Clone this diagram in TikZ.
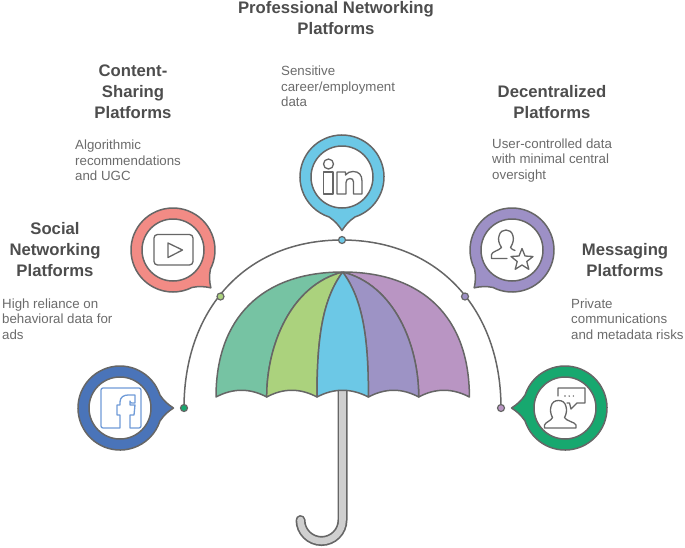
\documentclass[tikz,border=0pt]{standalone}
\usepackage{fontspec}
\setmainfont{Liberation Sans}
\definecolor{lineg}{HTML}{666666}
\definecolor{titleg}{HTML}{4D4D4D}
\definecolor{bodyg}{HTML}{6B6B6B}
\definecolor{cfb}{HTML}{4A74B9}
\definecolor{cfbicon}{HTML}{6F9BD8}
\definecolor{cyt}{HTML}{F28B85}
\definecolor{cli}{HTML}{6CC8E6}
\definecolor{cde}{HTML}{9D90C6}
\definecolor{cms}{HTML}{17A86F}
\definecolor{gteal}{HTML}{76C3A3}
\definecolor{glime}{HTML}{ABD27D}
\definecolor{gblue}{HTML}{6CC8E6}
\definecolor{gviol}{HTML}{9D93C5}
\definecolor{gplum}{HTML}{B995C3}
\definecolor{shaft}{HTML}{CFCFCF}
\tikzset{
  titletext/.style={inner sep=0pt,align=center,text=titleg,font=\fontsize{16.7}{21}\selectfont\bfseries},
  bodytext/.style={inner sep=0pt,align=left,text=bodyg,font=\fontsize{13.3}{15.6}\selectfont},
  outline/.style={draw=lineg,line width=1.5pt,line join=round},
  iconline/.style={draw=lineg,line width=1.3pt,line join=round,line cap=round},
  hole/.style={circle,draw=lineg,line width=1.5pt,fill=white,minimum size=62pt,inner sep=0pt},
  joint/.style={circle,draw=lineg,line width=1.2pt,minimum size=7pt,inner sep=0pt},
}
% Round badge with a pointed tail; #1 colour, #2 centre, #3 tail direction, #4 hole name
\newcommand{\badge}[4]{%
  \begin{scope}[shift={(#2)},rotate=#3]
    \fill[#1,outline] (18:42) arc[start angle=18,end angle=342,radius=42]
      .. controls (44,-7) and (48,-3.5) .. (53.5,0)
      .. controls (48,3.5) and (44,7) .. cycle;
  \end{scope}
  \node[hole] (#4) at (#2) {};
}
\begin{document}
\begin{tikzpicture}[x=1pt,y=1pt]
\useasboundingbox (0,-547) rectangle (685,0);

% Umbrella shaft and crook
\coordinate (shafttop) at (342.5,-388);
\coordinate (shaftend) at (342.5,-520);
\coordinate (crookend) at (300.5,-520);
\def\crook{(shafttop) -- (shaftend) .. controls (342.5,-531.6) and (333.1,-541) .. (321.5,-541)
   .. controls (309.9,-541) and (300.5,-531.6) .. (crookend)}
\draw[lineg,line width=10pt,line cap=round] \crook;
\draw[shaft,line width=6.6pt,line cap=round] \crook;

% Canopy gores
\coordinate (T) at (342.7,-272);
\coordinate (a0) at (216,-397);
\coordinate (a1) at (266.7,-397);
\coordinate (a2) at (317,-397);
\coordinate (a3) at (368.4,-397);
\coordinate (a4) at (418.7,-397);
\coordinate (a5) at (469.4,-397);
\fill[gteal,outline] (T) .. controls (262,-272) and (216,-318) .. (a0)
  .. controls (233,-388) and (250,-388) .. (a1)
  .. controls (266.7,-345) and (291,-285) .. (T);
\fill[gplum,outline] (T) .. controls (423.4,-272) and (469.4,-318) .. (a5)
  .. controls (452.4,-388) and (435.4,-388) .. (a4)
  .. controls (418.7,-345) and (394.4,-285) .. (T);
\fill[glime,outline] (T) .. controls (291,-285) and (266.7,-345) .. (a1)
  .. controls (283.5,-388) and (300,-388) .. (a2)
  .. controls (317,-340) and (322,-300) .. (T);
\fill[gviol,outline] (T) .. controls (394.4,-285) and (418.7,-345) .. (a4)
  .. controls (402,-388) and (385.4,-388) .. (a3)
  .. controls (368.4,-340) and (363.4,-300) .. (T);
\fill[gblue,outline] (T) .. controls (322,-300) and (317,-340) .. (a2)
  .. controls (334,-388) and (351,-388) .. (a3)
  .. controls (368.4,-340) and (363.4,-300) .. (T);

% Arch with its joints on top
\coordinate (pleft) at (184,-408);
\coordinate (pul) at (220.5,-296.5);
\coordinate (ptop) at (342,-240);
\coordinate (pur) at (465,-296.5);
\coordinate (pright) at (501,-408);
\draw[lineg,line width=1.5pt] (pleft) .. controls (184,-310) and (245,-240) .. (ptop);
\draw[lineg,line width=1.5pt] (pright) .. controls (501,-310) and (439,-240) .. (ptop);
\node[joint,fill=cms] (jleft) at (pleft) {};
\node[joint,fill=glime] (jul) at (pul) {};
\node[joint,fill=cli] (jtop) at (ptop) {};
\node[joint,fill=cde] (jur) at (pur) {};
\node[joint,fill=gplum] (jright) at (pright) {};

% Badges
\badge{cfb}{120,-408}{0}{hfb}
\badge{cyt}{173,-250}{-45}{hyt}
\badge{cli}{342,-177}{-90}{hli}
\badge{cde}{512,-250}{-135}{hde}
\badge{cms}{565,-408}{180}{hms}

% Facebook mark
\draw[cfbicon,line width=1.3pt,line join=round]
  (130,-428) -- (139,-428) .. controls (140,-428) and (141,-427) .. (141,-426) -- (141,-390)
  .. controls (141,-389) and (140,-388) .. (139,-388) -- (103,-388)
  .. controls (102,-388) and (101,-389) .. (101,-390) -- (101,-426)
  .. controls (101,-427) and (102,-428) .. (103,-428) -- (120,-428)
  -- (120,-415) -- (117,-415) -- (117,-405) -- (120,-405) -- (120,-402)
  .. controls (120,-397) and (124,-395) .. (128,-395) -- (135,-395) -- (135,-403) -- (132,-403)
  .. controls (130.5,-403) and (130,-402.5) .. (130,-401) -- (130,-405) -- (135,-405) -- (134,-415) -- (130,-415) -- cycle;

% Video player mark
\draw[iconline,rounded corners=3.5pt] (154,-234.5) rectangle (193,-265);
\draw[iconline] (168,-243) -- (182.5,-250) -- (168,-257.5) -- cycle;

% LinkedIn mark
\draw[iconline] (328.5,-164) circle[radius=5];
\draw[iconline] (323.5,-172) rectangle (333,-194);
\draw[iconline] (337,-194) -- (337,-172) -- (345.5,-172) -- (345.5,-175)
  .. controls (347.5,-172.5) and (350,-171.5) .. (353,-171.5)
  .. controls (359,-171.5) and (362,-175) .. (362,-181) -- (362,-194) -- (353.5,-194) -- (353.5,-182)
  .. controls (353.5,-179.5) and (352,-178.5) .. (350,-178.5)
  .. controls (347.5,-178.5) and (346,-180) .. (346,-182.5) -- (346,-194) -- cycle;

% Person with star mark
\draw[iconline] (507,-258.5) -- (491.5,-258.5) -- (491.5,-254.5) .. controls (492,-251.5) and (499,-250.5) .. (501.5,-247.5)
  .. controls (498.5,-243) and (498,-239) .. (499,-236) .. controls (500,-231.5) and (503,-230) .. (506,-230)
  .. controls (509,-230) and (512,-231.5) .. (513,-236) .. controls (514,-239.5) and (513,-243.5) .. (510.5,-247.5)
  .. controls (511.5,-249) and (513,-250) .. (515,-250.5);
\draw[iconline] (522,-248.5) -- ++(-3,-7.5) -- ++(-8,-0.5) -- ++(6.2,-5) -- ++(-2,-7.8) -- ++(6.8,4.3) -- ++(6.8,-4.3) -- ++(-2,7.8) -- ++(6.2,5) -- ++(-8,0.5) -- cycle;

% Person with speech bubble mark
\draw[iconline] (544.5,-428) -- (576,-428) -- (576,-425) .. controls (575,-422) and (566,-421) .. (564.5,-417.5)
  .. controls (566.5,-414) and (567,-410) .. (566,-406.5) .. controls (565,-402) and (562,-400.5) .. (558.5,-400.5)
  .. controls (555,-400.5) and (552,-402) .. (551,-406.5) .. controls (550,-410) and (550.5,-414) .. (552.5,-417.5)
  .. controls (551,-421) and (545.5,-422) .. (544.5,-425) -- cycle;
\draw[iconline] (558,-396) -- (558,-388) -- (585,-388) -- (585,-403) -- (577,-403) -- (571,-409) -- (569.5,-403) -- (567,-403);
\fill[lineg] (565,-396) circle[radius=.8] (569.2,-396) circle[radius=.8] (573.4,-396) circle[radius=.8];

% Titles
\node[titletext] (t1) at (336,-18.5) {Professional Networking\\Platforms};
\node[titletext] (t2) at (133,-92) {Content-\\Sharing\\Platforms};
\node[titletext] (t3) at (552,-102.5) {Decentralized\\Platforms};
\node[titletext] (t4) at (55,-250) {Social\\Networking\\Platforms};
\node[titletext] (t5) at (625,-260.5) {Messaging\\Platforms};

% Descriptions
\node[bodytext,anchor=west] (b1) at (281,-86.5) {Sensitive\\career/employment\\data};
\node[bodytext,anchor=west] (b2) at (75,-160.5) {Algorithmic\\recommendations\\and UGC};
\node[bodytext,anchor=west] (b3) at (492,-160.5) {User-controlled data\\with minimal central\\oversight};
\node[bodytext,anchor=west] (b4) at (2,-319) {High reliance on\\behavioral data for\\ads};
\node[bodytext,anchor=west] (b5) at (571,-319) {Private\\communications\\and metadata risks};
\end{tikzpicture}
\end{document}
